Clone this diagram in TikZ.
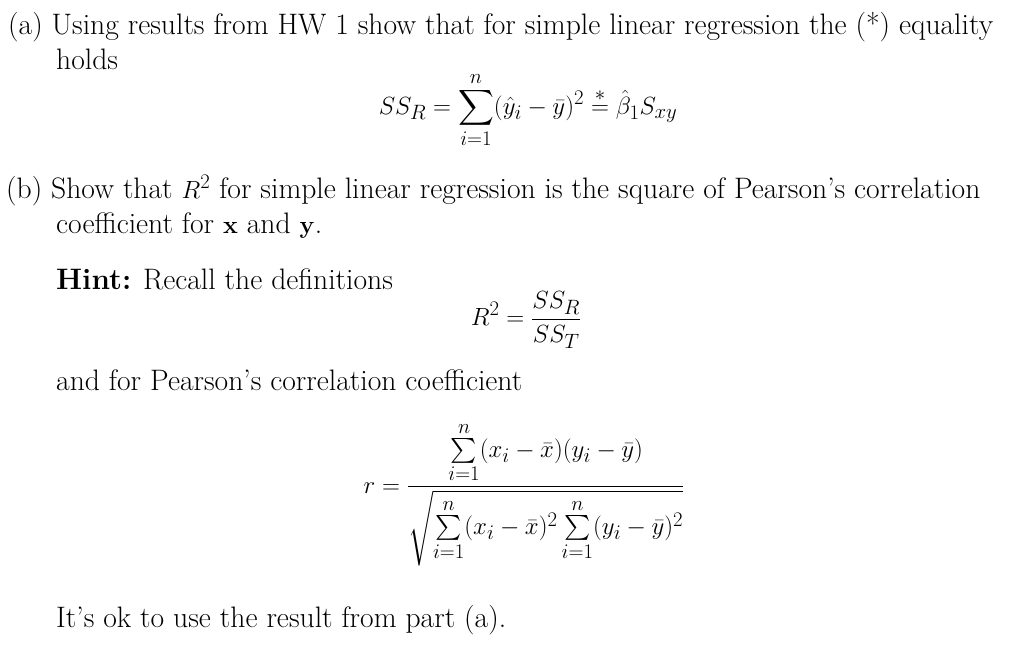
\documentclass[tikz,border=0pt]{standalone}
\usepackage{amsmath}
\begin{document}
\begin{tikzpicture}[x=1pt,y=1pt,
  txt/.style={anchor=base west,inner sep=0pt,font=\fontsize{29.6}{36}\selectfont},
  eq/.style={inner sep=0pt,font=\fontsize{32}{38}\selectfont}]
\useasboundingbox (0,0) rectangle (1024,-653);
\node[txt] (a1) at (8,-34) {(a) Using results from HW 1 show that for simple linear regression the (*) equality};
\node[txt] (a2) at (56,-69) {holds};
\node[eq] (e1) at (528,-110) {$\displaystyle SS_R=\sum_{i=1}^{n}(\hat y_i-\bar y)^2\stackrel{*}{=}\hat\beta_1 S_{xy}$};
\node[txt] (b1) at (6,-198) {(b) Show that $R^2$ for simple linear regression is the square of Pearson's correlation};
\node[txt] (b2) at (56,-233) {coefficient for $\mathbf{x}$ and $\mathbf{y}$.};
\node[txt] (h) at (56,-289) {\textbf{Hint:} Recall the definitions};
\node[eq] (e2) at (526,-320) {$\displaystyle R^2=\frac{SS_R}{SS_T}$};
\node[txt] (p) at (56,-390) {and for Pearson's correlation coefficient};
\node[eq] (e3) at (524,-494) {$\displaystyle r=\frac{\sum\limits_{i=1}^{n}(x_i-\bar x)(y_i-\bar y)}{\sqrt{\sum\limits_{i=1}^{n}(x_i-\bar x)^2\sum\limits_{i=1}^{n}(y_i-\bar y)^2}}$};
\node[txt] (ok) at (56,-627) {It's ok to use the result from part (a).};
\end{tikzpicture}
\end{document}
